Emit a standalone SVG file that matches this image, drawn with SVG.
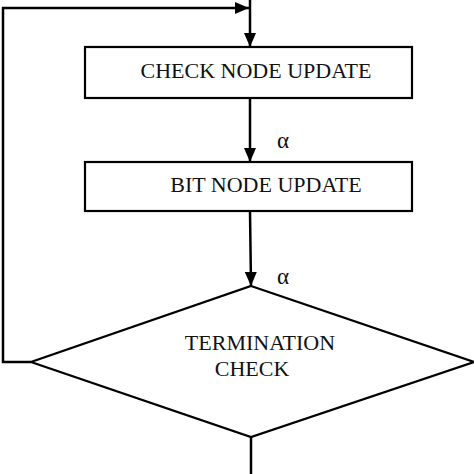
<svg xmlns="http://www.w3.org/2000/svg" width="474" height="474" viewBox="0 0 474 474">
<defs>
<style>
.shape{fill:#fff;stroke:#000;stroke-width:2.2}
.line{fill:none;stroke:#000;stroke-width:2.5}
.t{font-family:"Liberation Serif","Times New Roman",serif;font-size:22px;fill:#111}
.a{font-family:"Liberation Serif","Times New Roman",serif;font-size:23px;fill:#111}
</style>
<marker id="arr" markerWidth="14" markerHeight="12" refX="14" refY="6" orient="auto" markerUnits="userSpaceOnUse">
<path d="M0,0 L14,6 L0,12 Z" fill="#000"/>
</marker>
</defs>
<rect width="474" height="474" fill="#fff"/>
<g id="connectors">
<line class="line" x1="250" y1="0" x2="250" y2="47" marker-end="url(#arr)"/>
<polyline class="line" points="31,362 3,362 3,8 249,8" marker-end="url(#arr)"/>
<line class="line" x1="250" y1="98" x2="250" y2="162" marker-end="url(#arr)"/>
<line class="line" x1="250" y1="211" x2="251" y2="286" marker-end="url(#arr)"/>
<line class="line" x1="251" y1="437" x2="251" y2="474"/>
<text class="a" x="277" y="148">α</text>
<text class="a" x="277" y="284">α</text>
</g>
<g id="check-node-update">
<rect class="shape" x="85" y="47" width="327" height="51"/>
<text class="t" x="256" y="78" text-anchor="middle">CHECK NODE UPDATE</text>
</g>
<g id="bit-node-update">
<rect class="shape" x="85" y="162" width="327" height="49"/>
<text class="t" x="266" y="192" text-anchor="middle">BIT NODE UPDATE</text>
</g>
<g id="termination-check">
<polygon class="shape" points="251,286 474,362 251,437 31,362"/>
<text class="t" x="260" y="350" text-anchor="middle">TERMINATION</text>
<text class="t" x="252" y="376" text-anchor="middle">CHECK</text>
</g>
</svg>
